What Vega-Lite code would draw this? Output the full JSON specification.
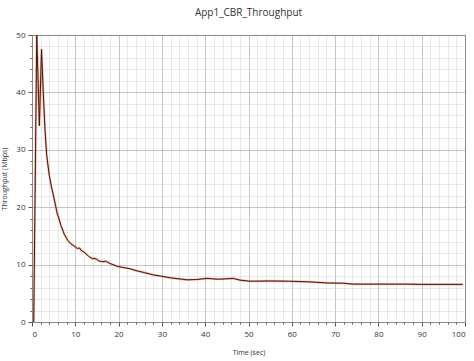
{
  "$schema": "https://vega.github.io/schema/vega-lite/v6.json",
  "width": 433,
  "height": 287,
  "autosize": {"type": "none"},
  "padding": {"left": 32, "top": 35, "right": 9, "bottom": 39},
  "background": "white",
  "title": {"text": "App1_CBR_Throughput", "font": "Open Sans", "fontSize": 10, "fontWeight": "normal", "color": "#333", "offset": 13, "anchor": "middle"},
  "config": {
    "view": {"stroke": "#888", "strokeWidth": 1},
    "axis": {"labelFont": "Open Sans", "titleFont": "Open Sans", "labelColor": "#333", "titleColor": "#333", "domain": false}
  },
  "data": {"values": [
    {"t": 0.4, "v": 0}, {"t": 1.1, "v": 50}, {"t": 1.7, "v": 34.2}, {"t": 2.2, "v": 47.5},
    {"t": 2.6, "v": 40}, {"t": 3.0, "v": 33.5}, {"t": 3.4, "v": 29}, {"t": 4.0, "v": 25.5},
    {"t": 4.5, "v": 23.5}, {"t": 5.1, "v": 21.5}, {"t": 5.8, "v": 19}, {"t": 6.7, "v": 16.8},
    {"t": 7.5, "v": 15.2}, {"t": 8.3, "v": 14.2}, {"t": 9.0, "v": 13.6}, {"t": 10.0, "v": 13.1},
    {"t": 10.5, "v": 12.8}, {"t": 11.0, "v": 12.9}, {"t": 11.3, "v": 12.5}, {"t": 12.0, "v": 12.2},
    {"t": 13.0, "v": 11.5}, {"t": 14.0, "v": 11.0}, {"t": 14.3, "v": 11.1}, {"t": 15.0, "v": 10.9},
    {"t": 15.5, "v": 10.6}, {"t": 16.6, "v": 10.5}, {"t": 17.0, "v": 10.6}, {"t": 18.0, "v": 10.2},
    {"t": 19.7, "v": 9.7}, {"t": 21.0, "v": 9.5}, {"t": 22.5, "v": 9.3}, {"t": 24.3, "v": 8.9},
    {"t": 26.0, "v": 8.6}, {"t": 28.0, "v": 8.2}, {"t": 29.7, "v": 8.0}, {"t": 32.0, "v": 7.7},
    {"t": 35.8, "v": 7.35}, {"t": 38.0, "v": 7.4}, {"t": 40.4, "v": 7.6}, {"t": 43.0, "v": 7.45},
    {"t": 46.5, "v": 7.6}, {"t": 48.0, "v": 7.3}, {"t": 50.3, "v": 7.1}, {"t": 55.0, "v": 7.15},
    {"t": 59.5, "v": 7.1}, {"t": 64.0, "v": 7.0}, {"t": 68.0, "v": 6.8}, {"t": 72.0, "v": 6.75},
    {"t": 74.0, "v": 6.6}, {"t": 80.0, "v": 6.6}, {"t": 86.0, "v": 6.6}, {"t": 90.0, "v": 6.55},
    {"t": 95.0, "v": 6.55}, {"t": 99.5, "v": 6.55}
  ]},
  "encoding": {
    "x": {
      "field": "t", "type": "quantitative",
      "scale": {"domain": [0, 100], "nice": false, "zero": false},
      "axis": {
        "title": "Time (sec)", "titleFontSize": 7, "titleFontWeight": "normal", "titlePadding": 10,
        "values": [0,2,4,6,8,10,12,14,16,18,20,22,24,26,28,30,32,34,36,38,40,42,44,46,48,50,52,54,56,58,60,62,64,66,68,70,72,74,76,78,80,82,84,86,88,90,92,94,96,98,100],
        "labelExpr": "datum.value % 10 === 0 ? datum.label : ''",
        "labelFontSize": 8, "labelPadding": 4,
        "grid": true,
        "gridColor": {"condition": {"test": "datum.value % 10 === 0", "value": "#8a8a8a"}, "value": "#d2d2d2"},
        "gridDash": [1, 1],
        "gridWidth": 1,
        "tickColor": "#555",
        "tickSize": {"condition": {"test": "datum.value % 10 === 0", "value": 4}, "value": 2}
      }
    },
    "y": {
      "field": "v", "type": "quantitative",
      "scale": {"domain": [0, 50], "nice": false},
      "axis": {
        "title": "Throughput (Mbps)", "titleFontSize": 7, "titleFontWeight": "normal", "titlePadding": 8,
        "values": [0,2,4,6,8,10,12,14,16,18,20,22,24,26,28,30,32,34,36,38,40,42,44,46,48,50],
        "labelExpr": "datum.value % 10 === 0 ? datum.label : ''",
        "labelFontSize": 8, "labelPadding": 3,
        "grid": true,
        "gridColor": {"condition": {"test": "datum.value % 10 === 0", "value": "#8a8a8a"}, "value": "#d2d2d2"},
        "gridDash": [1, 1],
        "gridWidth": 1,
        "tickColor": "#555",
        "tickSize": {"condition": {"test": "datum.value % 10 === 0", "value": 4}, "value": 2}
      }
    }
  },
  "layer": [
    {"mark": {"type": "line", "color": "#e0886a", "strokeWidth": 2.2, "opacity": 0.6}},
    {"mark": {"type": "line", "color": "#4a1508", "strokeWidth": 1}}
  ]
}
